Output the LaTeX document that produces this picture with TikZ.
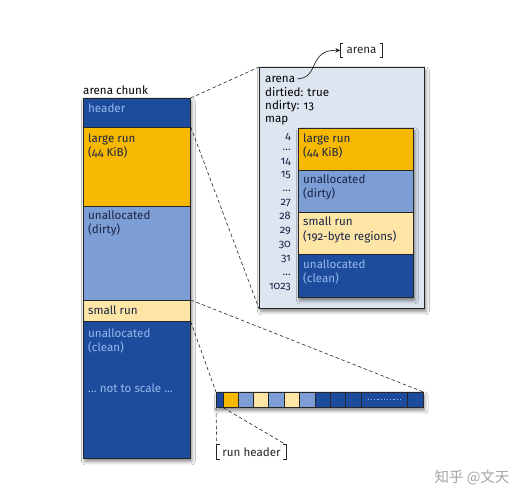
\documentclass[tikz,border=0pt]{standalone}
\usepackage{fontspec}
\setmainfont[Numbers=OldStyle]{Fira Sans}
\newfontfamily\cjk{Noto Sans CJK SC}
\usetikzlibrary{arrows.meta,shadows.blur}
\definecolor{cdark}{RGB}{30,76,156}
\definecolor{corange}{RGB}{246,185,0}
\definecolor{clight}{RGB}{125,158,213}
\definecolor{cyellow}{RGB}{252,229,165}
\definecolor{cbox}{RGB}{221,229,240}
\definecolor{tlight}{RGB}{150,185,240}
\definecolor{tdark}{RGB}{25,35,70}
\begin{document}
\begin{tikzpicture}[x=1pt,y=-1pt,
  cell/.style={draw=black!85, line width=0.7pt, inner sep=0pt, anchor=north west, minimum width=#1},
  cell/.default=107pt,
  shad/.style={blur shadow={shadow xshift=1.5pt, shadow yshift=-3pt, shadow blur radius=3.5pt, shadow opacity=50}},
  lbl/.style={anchor=base west, inner sep=0pt, font=\fontsize{11.6}{14}\selectfont, text=tdark},
  lbll/.style={lbl, text=tlight},
  num/.style={anchor=base east, inner sep=0pt, font=\fontsize{11}{13}\selectfont, text=tdark},
  conn/.style={line width=0.6pt, black!85, dash pattern=on 3.5pt off 2.5pt},
  brk/.style={line width=0.7pt, black!85},
  blabel/.style={inner sep=0pt, font=\fontsize{11.6}{14}\selectfont, text=black!85}
]
\useasboundingbox (0,0) rectangle (529,501);
\fill[white] (0,0) rectangle (529,501);

% ---------- left arena chunk ----------
\node[lbl, text=black] (tchunk) at (83,94) {arena chunk};
\node[cell, shad, minimum height=360pt] (chunk) at (83,98) {};
\node[cell, fill=cdark, minimum height=29pt] (hdr) at (83,98) {};
\node[cell, fill=corange, minimum height=79pt] (large) at (83,127) {};
\node[cell, fill=clight, minimum height=94pt] (dirty) at (83,206) {};
\node[cell, fill=cyellow, minimum height=21pt] (small) at (83,300) {};
\node[cell, fill=cdark, minimum height=137pt] (clean) at (83,321) {};

\node[lbll] (t1) at (88,112) {header};
\node[lbl] (t2) at (88,142) {large run};
\node[lbl] (t3) at (88,156) {(44 KiB)};
\node[lbl] (t4) at (88,219) {unallocated};
\node[lbl] (t5) at (88,233) {(dirty)};
\node[lbl] (t6) at (88,314) {small run};
\node[lbll] (t7) at (88,337) {unallocated};
\node[lbll] (t8) at (88,351) {(clean)};
\node[lbll] (t9) at (88,392) {\dots\ not to scale \dots};

% ---------- arena box ----------
\node[cell, shad, fill=cbox, minimum width=165pt, minimum height=241pt] (abox) at (259,67) {};
\node[lbl, text=black] (ta) at (265,82) {arena};
\node[lbl, text=black] (tb) at (265,96) {dirtied: true};
\node[lbl, text=black] (tc) at (265,109) {ndirty: 13};
\node[lbl, text=black] (td) at (265,122) {map};

\node[cell, shad, minimum width=115pt, minimum height=169pt] (mcol) at (298,128) {};
\node[cell=115pt, fill=corange, minimum height=42pt] (mlarge) at (298,128) {};
\node[cell=115pt, fill=clight, minimum height=42pt] (mdirty) at (298,170) {};
\node[cell=115pt, fill=cyellow, minimum height=42pt] (msmall) at (298,212) {};
\node[cell=115pt, fill=cdark, minimum height=43pt] (mclean) at (298,254) {};

\node[lbl] (m1) at (303,142) {large run};
\node[lbl] (m2) at (303,156) {(44 KiB)};
\node[lbl] (m3) at (303,183) {unallocated};
\node[lbl] (m4) at (303,197) {(dirty)};
\node[lbl] (m5) at (303,225) {small run};
\node[lbl] (m6) at (303,240) {(192-byte regions)};
\node[lbll] (m7) at (303,268) {unallocated};
\node[lbll] (m8) at (303,282) {(clean)};

\node[num] (n1) at (291,139) {4};
\node[num] (n2) at (291,150) {\dots};
\node[num] (n3) at (291,164) {14};
\node[num] (n4) at (291,177) {15};
\node[num] (n5) at (291,191) {\dots};
\node[num] (n6) at (291,205) {27};
\node[num] (n7) at (291,219) {28};
\node[num] (n8) at (291,233) {29};
\node[num] (n9) at (291,247) {30};
\node[num] (n10) at (291,261) {31};
\node[num] (n11) at (291,275) {\dots};
\node[num] (n12) at (291,289) {1023};

% [arena] label
\node[blabel, minimum width=42pt, minimum height=13pt] (alab) at (361.5,50.5) {arena};
\draw[brk] ([xshift=3pt]alab.north west) -- (alab.north west) -- (alab.south west) -- ([xshift=3pt]alab.south west);
\draw[brk] ([xshift=-3pt]alab.north east) -- (alab.north east) -- (alab.south east) -- ([xshift=-3pt]alab.south east);
\coordinate (astart) at ([xshift=2pt]ta.east);
\draw[line width=0.7pt, black!85, -{Stealth[length=5pt,width=4.5pt]}] (astart) .. controls (320,78) and (308,49) .. (alab.west);

% ---------- run strip ----------
\node[cell, shad, minimum width=206.7pt, minimum height=15pt] (strip) at (216,392) {};
\foreach \i/\a/\b/\c in {0/216/222.7/cdark, 1/222.7/237.5/corange, 2/237.5/252.7/clight, 3/252.7/268/cyellow,
  4/268/284/clight, 5/284/299/cyellow, 6/299/314.7/clight, 7/314.7/330/cdark, 8/330/345/cdark,
  9/345/360.7/cdark, 10/360.7/407/cdark, 11/407/422.7/cdark}{
  \pgfmathsetmacro{\w}{\b-\a}
  \node[cell=\w pt, fill=\c, minimum height=15pt] (s\i) at (\a,392) {};
}
\draw[tlight, line width=1.2pt, dash pattern=on 1.2pt off 2pt] ([xshift=7pt]s10.west) -- ([xshift=-7pt]s10.east);

% run header label
\node[blabel, minimum width=69pt, minimum height=14pt] (rh) at (251.5,452) {run header};
\draw[brk] ([xshift=3pt]rh.north west) -- (rh.north west) -- (rh.south west) -- ([xshift=3pt]rh.south west);
\draw[brk] ([xshift=-3pt]rh.north east) -- (rh.north east) -- (rh.south east) -- ([xshift=-3pt]rh.south east);

% ---------- connectors ----------
\draw[conn] (hdr.north east) -- (abox.north west);
\draw[conn] (large.north east) -- (abox.south west);
\draw[conn] (small.north east) -- (strip.north east);
\draw[conn] (small.south east) -- (strip.north west);
\draw[conn] (s0.south west) -- (rh.north west);
\draw[conn] (s0.south east) -- (rh.north east);

% watermark
\node[inner sep=0pt, font=\cjk\fontsize{14.5}{16}\selectfont, text=black!35] (wm) at (472,478) {知乎 @文天};
\end{tikzpicture}
\end{document}
